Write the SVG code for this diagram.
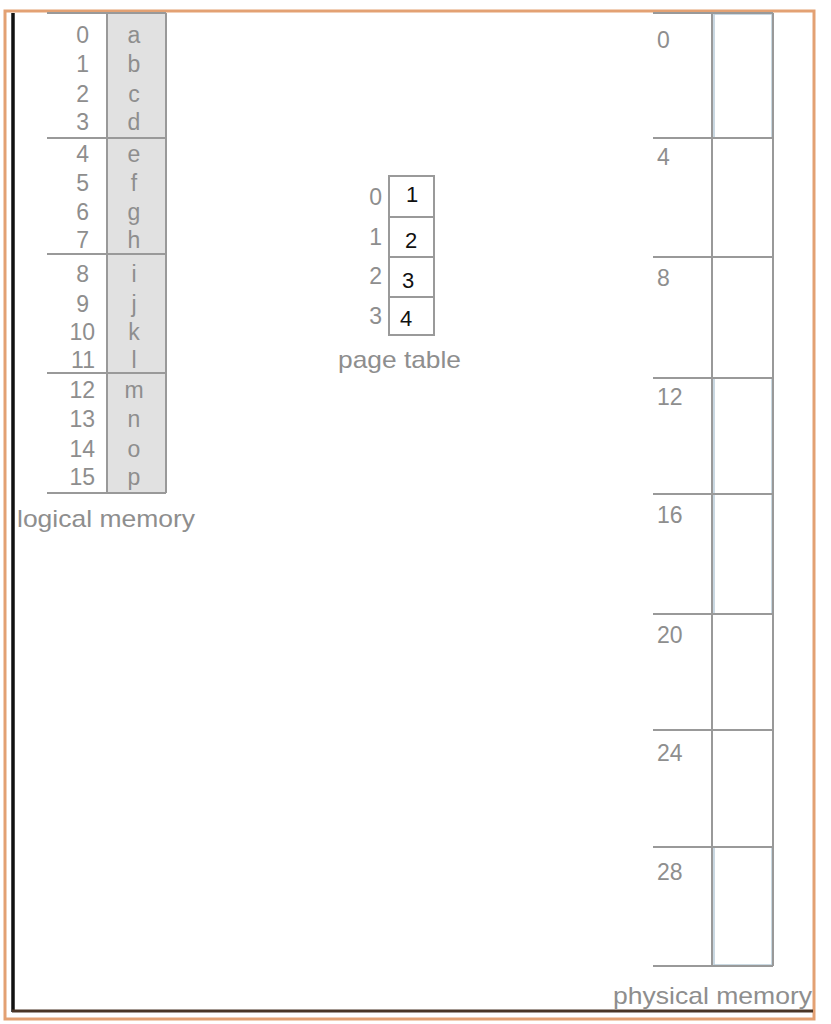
<svg xmlns="http://www.w3.org/2000/svg" width="831" height="1024" viewBox="0 0 831 1024">
<style>
.lbl{font-family:"Liberation Sans",Arial,sans-serif;font-size:23px;fill:#8e8e8e}
.num{text-anchor:end}
.let{text-anchor:middle}
.cap{font-family:"Liberation Sans",Arial,sans-serif;font-size:24px;fill:#8e8e8e}
.pt{font-family:"Liberation Sans",Arial,sans-serif;font-size:22px;fill:#111;text-anchor:middle}
.ln{stroke:#999;stroke-width:2;fill:none}
.bl{stroke:#b9ccd9;stroke-width:1.5;fill:none}
</style>
<rect x="0" y="0" width="831" height="1024" fill="#fff"/>
<g id="frame">
<rect x="5" y="11" width="809" height="1008" fill="none" stroke="#e3a173" stroke-width="3"/>
<line x1="13" y1="13" x2="13" y2="1012" stroke="#111" stroke-width="3.5"/>
<line x1="12" y1="1011" x2="813" y2="1011" stroke="#4a3526" stroke-width="3"/>
</g>
<g id="logical-memory">
<rect x="107" y="13" width="59" height="480" fill="#e1e1e1"/>
<line class="ln" x1="47" y1="13" x2="166" y2="13"/>
<line class="ln" x1="47" y1="138" x2="166" y2="138"/>
<line class="ln" x1="47" y1="254" x2="166" y2="254"/>
<line class="ln" x1="47" y1="373" x2="166" y2="373"/>
<line class="ln" x1="47" y1="493" x2="166" y2="493"/>
<line class="ln" x1="107" y1="13" x2="107" y2="493"/>
<line class="ln" x1="166" y1="13" x2="166" y2="493"/>
<g class="lbl num">
<text x="89" y="43">0</text><text x="89" y="72">1</text><text x="89" y="102">2</text><text x="89" y="130">3</text>
<text x="89" y="162">4</text><text x="89" y="191">5</text><text x="89" y="220">6</text><text x="89" y="248">7</text>
<text x="89" y="282">8</text><text x="89" y="312">9</text><text x="95" y="340">10</text><text x="95" y="368">11</text>
<text x="95" y="398">12</text><text x="95" y="427">13</text><text x="95" y="457">14</text><text x="95" y="485">15</text>
</g>
<g class="lbl let">
<text x="134" y="43">a</text><text x="134" y="72">b</text><text x="134" y="102">c</text><text x="134" y="130">d</text>
<text x="134" y="162">e</text><text x="134" y="191">f</text><text x="134" y="220">g</text><text x="134" y="248">h</text>
<text x="134" y="282">i</text><text x="134" y="312">j</text><text x="134" y="340">k</text><text x="134" y="368">l</text>
<text x="134" y="398">m</text><text x="134" y="427">n</text><text x="134" y="457">o</text><text x="134" y="485">p</text>
</g>
<text class="cap" x="17" y="527" textLength="178" lengthAdjust="spacingAndGlyphs">logical memory</text>
</g>
<g id="page-table">
<rect x="389" y="176" width="45" height="159" fill="#fff" stroke="#9a9a9a" stroke-width="2"/>
<line class="ln" x1="389" y1="217" x2="434" y2="217"/>
<line class="ln" x1="389" y1="257" x2="434" y2="257"/>
<line class="ln" x1="389" y1="297" x2="434" y2="297"/>
<g class="lbl num">
<text x="382" y="205">0</text><text x="382" y="245">1</text><text x="382" y="284">2</text><text x="382" y="324">3</text>
</g>
<text class="pt" x="412" y="202">1</text>
<text class="pt" x="411" y="248">2</text>
<text class="pt" x="408" y="288">3</text>
<text class="pt" x="406" y="326">4</text>
<text class="cap" x="338" y="368" textLength="123" lengthAdjust="spacingAndGlyphs">page table</text>
</g>
<g id="physical-memory">
<rect class="bl" x="714" y="14" width="58" height="124"/>
<rect class="bl" x="714" y="378" width="58" height="236"/>
<rect class="bl" x="714" y="847" width="58" height="118"/>
<line class="ln" x1="712" y1="13" x2="712" y2="966"/>
<line class="ln" x1="773" y1="13" x2="773" y2="966"/>
<line class="ln" x1="653" y1="13" x2="773" y2="13"/>
<line class="ln" x1="653" y1="138" x2="773" y2="138"/>
<line class="ln" x1="653" y1="257" x2="773" y2="257"/>
<line class="ln" x1="653" y1="378" x2="773" y2="378"/>
<line class="ln" x1="653" y1="494" x2="773" y2="494"/>
<line class="ln" x1="653" y1="614" x2="773" y2="614"/>
<line class="ln" x1="653" y1="730" x2="773" y2="730"/>
<line class="ln" x1="653" y1="847" x2="773" y2="847"/>
<line class="ln" x1="653" y1="966" x2="773" y2="966"/>
<g class="lbl">
<text x="657" y="48">0</text><text x="657" y="165">4</text><text x="657" y="286">8</text><text x="657" y="405">12</text>
<text x="657" y="523">16</text><text x="657" y="643">20</text><text x="657" y="761">24</text><text x="657" y="880">28</text>
</g>
<text class="cap" x="613" y="1004" textLength="199" lengthAdjust="spacingAndGlyphs">physical memory</text>
</g>
</svg>
